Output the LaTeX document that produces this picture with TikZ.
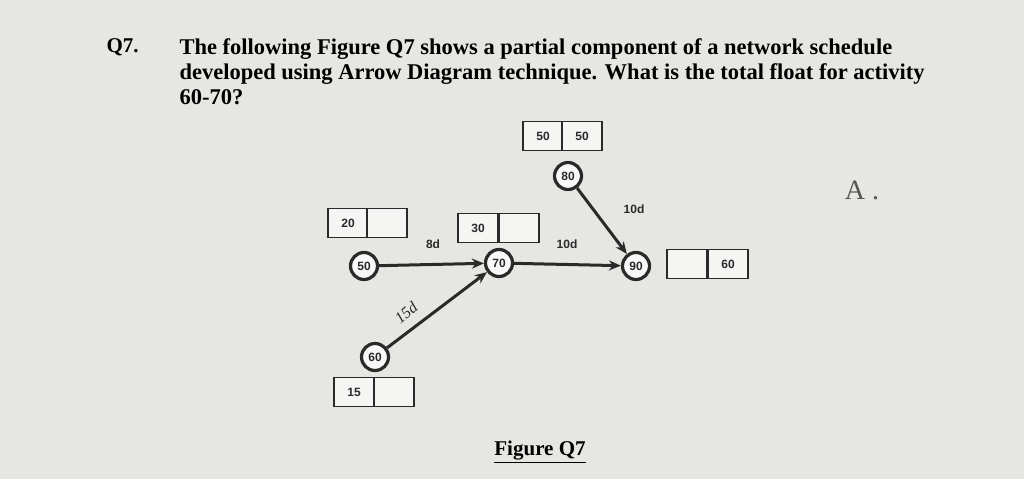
\documentclass[tikz,border=0pt]{standalone}
\usepackage{fontspec}
\setmainfont{Liberation Serif}
\newfontfamily\sansf{Liberation Sans}
\usetikzlibrary{arrows.meta}
\definecolor{paper}{HTML}{E6E6E3}
\definecolor{ink}{HTML}{2A2A2A}
\begin{document}
\begin{tikzpicture}[x=1pt,y=-1pt,
  ev/.style={circle,draw=ink,line width=3.2pt,minimum size=27pt,inner sep=0pt,font=\sansf\bfseries\fontsize{12}{12}\selectfont,text=ink,fill=white!70!paper},
  half/.style={draw=ink,line width=1.5pt,minimum width=40pt,minimum height=29pt,inner sep=0pt,font=\sansf\bfseries\fontsize{12}{12}\selectfont,text=ink,fill=white!60!paper},
  act/.style={draw=ink,line width=3pt,-{Stealth[length=12pt,width=10pt]}},
  dur/.style={font=\sansf\bfseries\fontsize{12}{12}\selectfont,text=ink}]
\fill[paper] (0,0) rectangle (1024,479);
\useasboundingbox (0,0) rectangle (1024,479);
\node[anchor=west,font=\fontsize{21}{21}\selectfont\bfseries] (q) at (103,47) {Q7.};
\node[anchor=north west,align=left,font=\fontsize{22.5}{25}\selectfont\bfseries] (txt) at (176,35)
 {The following Figure Q7 shows a partial component of a network schedule\\ developed using Arrow Diagram technique. What is the total float for activity\\ 60-70?};
\node[ev] (n50) at (364,266) {50};
\node[ev] (n70) at (499,263) {70};
\node[ev] (n90) at (636,266) {90};
\node[ev] (n80) at (568,176) {80};
\node[ev] (n60) at (375,357) {60};
\draw[act] (n50) -- (n70);
\draw[act] (n60) -- (n70);
\draw[act] (n70) -- (n90);
\draw[act] (n80) -- (n90);
\node[half] (b20) at (348,223) {20};
\node[half] (b20r) at (387,223) {};
\node[half] (b30) at (478,228) {30};
\node[half] (b30r) at (519,228) {};
\node[half] (b50a) at (543,136) {50};
\node[half] (b50b) at (582,136) {50};
\node[half] (b60l) at (687,264) {};
\node[half] (b60r) at (728,264) {60};
\node[half] (b15) at (354,392) {15};
\node[half] (b15r) at (394,392) {};
\node[dur] (d8) at (433,244) {8d};
\node[dur] (d10a) at (567,244) {10d};
\node[dur] (d10b) at (634,209) {10d};
\node[font=\itshape\fontsize{16}{16}\selectfont,rotate=40,text=ink,inner sep=1pt] (d15) at (406,313) {15d};
\node[font=\fontsize{28}{28}\selectfont,text=ink!80] (ans) at (862,190) {A .};
\node[font=\fontsize{21}{21}\selectfont\bfseries] (cap) at (540,452) {\underline{Figure Q7}};
\end{tikzpicture}
\end{document}
